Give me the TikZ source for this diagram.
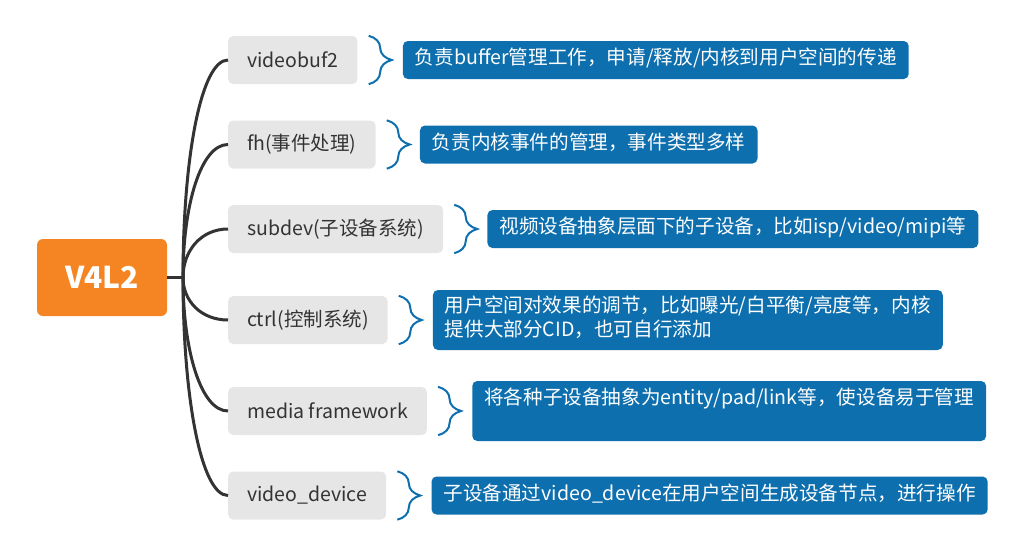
\documentclass[tikz,border=0pt]{standalone}
\usepackage{fontspec}
\setmainfont{Noto Sans CJK SC}
\usetikzlibrary{calc,decorations.pathreplacing}
\definecolor{rootorange}{HTML}{F58523}
\definecolor{itemgray}{HTML}{E6E6E6}
\definecolor{noteblue}{HTML}{0E6FAE}
\definecolor{linegray}{HTML}{333333}
\tikzset{
  topic/.style={fill=rootorange, rounded corners=6pt, text=white, font=\fontsize{30}{36}\selectfont\bfseries, minimum width=130pt, minimum height=77pt},
  item/.style={anchor=west, fill=itemgray, rounded corners=5pt, text=linegray, font=\fontsize{19.5}{23}\selectfont, inner xsep=19pt, inner ysep=0pt, minimum height=48pt},
  note/.style={anchor=west, fill=noteblue, rounded corners=5pt, text=white, font=\fontsize{19.6}{24}\selectfont, inner xsep=12pt, inner ysep=0pt, text height=13pt, text depth=4pt, minimum height=38pt, align=left},
  branch/.style={linegray, line width=3pt},
  curly/.style={noteblue, line width=2pt, decorate, decoration={brace, amplitude=23pt}}
}
\begin{document}
\begin{tikzpicture}[x=1pt, y=-1pt]
  \useasboundingbox (0,0) rectangle (1024,557);
  % root and hub
  \node[topic] (v4l2) at (102,277.5) {V4L2};
  \coordinate (hub) at (183,277.5);
  % items
  \node[item] (vb) at (228,60) {videobuf2};
  \node[item] (fh) at (228,144.5) {fh(事件处理)};
  \node[item] (sd) at (228,229) {subdev(子设备系统)};
  \node[item] (ctrl) at (228,320) {ctrl(控制系统)};
  \node[item] (mf) at (228,411) {media framework};
  \node[item] (vd) at (228,495.5) {video\_device};
  % branches
  \draw[branch] (v4l2.east) -- (hub);
  \draw[branch] (hub) .. controls ($(hub)!0.55!(hub |- vb.west)$) and ($(vb.west)!0.6!(hub |- vb.west)$) .. (vb.west);
  \draw[branch] (hub) .. controls ($(hub)!0.55!(hub |- fh.west)$) and ($(fh.west)!0.6!(hub |- fh.west)$) .. (fh.west);
  \draw[branch] (hub) .. controls ($(hub)!0.55!(hub |- sd.west)$) and ($(sd.west)!0.6!(hub |- sd.west)$) .. (sd.west);
  \draw[branch] (hub) .. controls ($(hub)!0.55!(hub |- ctrl.west)$) and ($(ctrl.west)!0.6!(hub |- ctrl.west)$) .. (ctrl.west);
  \draw[branch] (hub) .. controls ($(hub)!0.55!(hub |- mf.west)$) and ($(mf.west)!0.6!(hub |- mf.west)$) .. (mf.west);
  \draw[branch] (hub) .. controls ($(hub)!0.55!(hub |- vd.west)$) and ($(vd.west)!0.6!(hub |- vd.west)$) .. (vd.west);
  % braces
  \draw[curly] ([xshift=11pt]vb.north east) -- ([xshift=11pt]vb.south east);
  \draw[curly] ([xshift=11pt]fh.north east) -- ([xshift=11pt]fh.south east);
  \draw[curly] ([xshift=11pt]sd.north east) -- ([xshift=11pt]sd.south east);
  \draw[curly] ([xshift=11pt]ctrl.north east) -- ([xshift=11pt]ctrl.south east);
  \draw[curly] ([xshift=11pt]mf.north east) -- ([xshift=11pt]mf.south east);
  \draw[curly] ([xshift=11pt]vd.north east) -- ([xshift=11pt]vd.south east);
  % notes
  \node[note] (vbnote) at ([xshift=45pt]vb.east) {负责buffer管理工作，申请/释放/内核到用户空间的传递};
  \node[note] (fhnote) at ([xshift=44pt]fh.east) {负责内核事件的管理，事件类型多样};
  \node[note] (sdnote) at ([xshift=44pt]sd.east) {视频设备抽象层面下的子设备，比如isp/video/mipi等};
  \node[note, text height=37pt, text depth=4pt, minimum height=60pt] (ctrlnote) at ([xshift=45pt]ctrl.east) {用户空间对效果的调节，比如曝光/白平衡/亮度等，内核\\提供大部分CID，也可自行添加};
  \node[note, text depth=26pt, minimum height=60pt] (mfnote) at ([xshift=45pt]mf.east) {将各种子设备抽象为entity/pad/link等，使设备易于管理};
  \node[note] (vdnote) at ([xshift=45pt]vd.east) {子设备通过video\_device在用户空间生成设备节点，进行操作};
\end{tikzpicture}
\end{document}
